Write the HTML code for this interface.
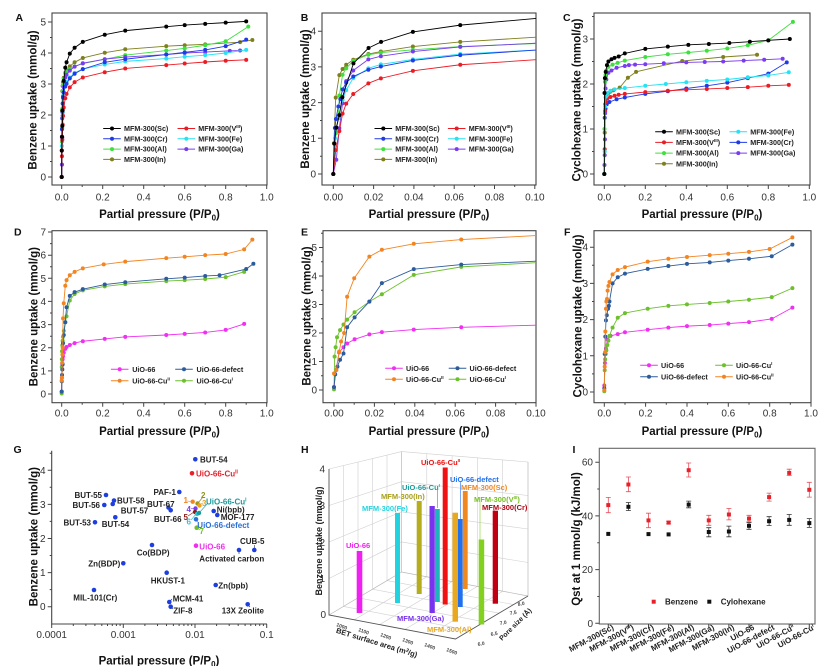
<!DOCTYPE html>
<html><head><meta charset="utf-8"><style>
html,body{margin:0;padding:0;background:#fff}
svg{display:block}
.t{font-size:10px;fill:#333}
.ti{font-size:11.5px;font-weight:bold;fill:#111}
.lg{font-size:7.2px;font-weight:bold;fill:#222}
.pl{font-size:10.5px;font-weight:bold;fill:#111}
.ln{fill:none;stroke-width:0.9;vector-effect:non-scaling-stroke;stroke-linejoin:round}
.gl{font-size:8px;font-weight:bold;fill:#222}
.hl{font-size:7.5px;font-weight:bold}
.il{font-size:8px;font-weight:bold;fill:#222}
.tk{stroke:#444;stroke-width:1;fill:none}
.gr{stroke:#cfcfcf;stroke-width:0.6;fill:none}
</style></head><body>
<svg width="828" height="666" viewBox="0 0 828 666" xmlns="http://www.w3.org/2000/svg" font-family="'Liberation Sans', Arial, sans-serif">
<defs>
<!-- Panel A markers rx=0.00976 ry=0.0645 -->
<marker id="mA0" markerUnits="userSpaceOnUse" markerWidth="0.0195" markerHeight="0.129" refX="0.00976" refY="0.0645" overflow="visible"><ellipse cx="0.00976" cy="0.0645" rx="0.00976" ry="0.0645" fill="#000"/></marker>
<marker id="mA1" markerUnits="userSpaceOnUse" markerWidth="0.0195" markerHeight="0.129" refX="0.00976" refY="0.0645" overflow="visible"><ellipse cx="0.00976" cy="0.0645" rx="0.00976" ry="0.0645" fill="#ec1c24"/></marker>
<marker id="mA2" markerUnits="userSpaceOnUse" markerWidth="0.0195" markerHeight="0.129" refX="0.00976" refY="0.0645" overflow="visible"><ellipse cx="0.00976" cy="0.0645" rx="0.00976" ry="0.0645" fill="#1f3be8"/></marker>
<marker id="mA3" markerUnits="userSpaceOnUse" markerWidth="0.0195" markerHeight="0.129" refX="0.00976" refY="0.0645" overflow="visible"><ellipse cx="0.00976" cy="0.0645" rx="0.00976" ry="0.0645" fill="#26e2f2"/></marker>
<marker id="mA4" markerUnits="userSpaceOnUse" markerWidth="0.0195" markerHeight="0.129" refX="0.00976" refY="0.0645" overflow="visible"><ellipse cx="0.00976" cy="0.0645" rx="0.00976" ry="0.0645" fill="#3ee03e"/></marker>
<marker id="mA5" markerUnits="userSpaceOnUse" markerWidth="0.0195" markerHeight="0.129" refX="0.00976" refY="0.0645" overflow="visible"><ellipse cx="0.00976" cy="0.0645" rx="0.00976" ry="0.0645" fill="#7a3cf0"/></marker>
<marker id="mA6" markerUnits="userSpaceOnUse" markerWidth="0.0195" markerHeight="0.129" refX="0.00976" refY="0.0645" overflow="visible"><ellipse cx="0.00976" cy="0.0645" rx="0.00976" ry="0.0645" fill="#7f7f1e"/></marker>
<!-- Panel B markers rx=0.000993 ry=0.056 -->
<marker id="mB0" markerUnits="userSpaceOnUse" markerWidth="0.001986" markerHeight="0.112" refX="0.000993" refY="0.056" overflow="visible"><ellipse cx="0.000993" cy="0.056" rx="0.000993" ry="0.056" fill="#000"/></marker>
<marker id="mB1" markerUnits="userSpaceOnUse" markerWidth="0.001986" markerHeight="0.112" refX="0.000993" refY="0.056" overflow="visible"><ellipse cx="0.000993" cy="0.056" rx="0.000993" ry="0.056" fill="#ec1c24"/></marker>
<marker id="mB2" markerUnits="userSpaceOnUse" markerWidth="0.001986" markerHeight="0.112" refX="0.000993" refY="0.056" overflow="visible"><ellipse cx="0.000993" cy="0.056" rx="0.000993" ry="0.056" fill="#1f3be8"/></marker>
<marker id="mB3" markerUnits="userSpaceOnUse" markerWidth="0.001986" markerHeight="0.112" refX="0.000993" refY="0.056" overflow="visible"><ellipse cx="0.000993" cy="0.056" rx="0.000993" ry="0.056" fill="#26e2f2"/></marker>
<marker id="mB4" markerUnits="userSpaceOnUse" markerWidth="0.001986" markerHeight="0.112" refX="0.000993" refY="0.056" overflow="visible"><ellipse cx="0.000993" cy="0.056" rx="0.000993" ry="0.056" fill="#3ee03e"/></marker>
<marker id="mB5" markerUnits="userSpaceOnUse" markerWidth="0.001986" markerHeight="0.112" refX="0.000993" refY="0.056" overflow="visible"><ellipse cx="0.000993" cy="0.056" rx="0.000993" ry="0.056" fill="#7a3cf0"/></marker>
<marker id="mB6" markerUnits="userSpaceOnUse" markerWidth="0.001986" markerHeight="0.112" refX="0.000993" refY="0.056" overflow="visible"><ellipse cx="0.000993" cy="0.056" rx="0.000993" ry="0.056" fill="#7f7f1e"/></marker>
<!-- Panel C markers rx=0.00976 ry=0.0444 -->
<marker id="mC0" markerUnits="userSpaceOnUse" markerWidth="0.0195" markerHeight="0.0888" refX="0.00976" refY="0.0444" overflow="visible"><ellipse cx="0.00976" cy="0.0444" rx="0.00976" ry="0.0444" fill="#000"/></marker>
<marker id="mC1" markerUnits="userSpaceOnUse" markerWidth="0.0195" markerHeight="0.0888" refX="0.00976" refY="0.0444" overflow="visible"><ellipse cx="0.00976" cy="0.0444" rx="0.00976" ry="0.0444" fill="#ec1c24"/></marker>
<marker id="mC2" markerUnits="userSpaceOnUse" markerWidth="0.0195" markerHeight="0.0888" refX="0.00976" refY="0.0444" overflow="visible"><ellipse cx="0.00976" cy="0.0444" rx="0.00976" ry="0.0444" fill="#1f3be8"/></marker>
<marker id="mC3" markerUnits="userSpaceOnUse" markerWidth="0.0195" markerHeight="0.0888" refX="0.00976" refY="0.0444" overflow="visible"><ellipse cx="0.00976" cy="0.0444" rx="0.00976" ry="0.0444" fill="#26e2f2"/></marker>
<marker id="mC4" markerUnits="userSpaceOnUse" markerWidth="0.0195" markerHeight="0.0888" refX="0.00976" refY="0.0444" overflow="visible"><ellipse cx="0.00976" cy="0.0444" rx="0.00976" ry="0.0444" fill="#3ee03e"/></marker>
<marker id="mC5" markerUnits="userSpaceOnUse" markerWidth="0.0195" markerHeight="0.0888" refX="0.00976" refY="0.0444" overflow="visible"><ellipse cx="0.00976" cy="0.0444" rx="0.00976" ry="0.0444" fill="#7a3cf0"/></marker>
<marker id="mC6" markerUnits="userSpaceOnUse" markerWidth="0.0195" markerHeight="0.0888" refX="0.00976" refY="0.0444" overflow="visible"><ellipse cx="0.00976" cy="0.0444" rx="0.00976" ry="0.0444" fill="#7f7f1e"/></marker>
<!-- Panel D markers rx=0.00976 ry=0.0864 -->
<marker id="mD0" markerUnits="userSpaceOnUse" markerWidth="0.0195" markerHeight="0.1728" refX="0.00976" refY="0.0864" overflow="visible"><ellipse cx="0.00976" cy="0.0864" rx="0.00976" ry="0.0864" fill="#f030f0"/></marker>
<marker id="mD1" markerUnits="userSpaceOnUse" markerWidth="0.0195" markerHeight="0.1728" refX="0.00976" refY="0.0864" overflow="visible"><ellipse cx="0.00976" cy="0.0864" rx="0.00976" ry="0.0864" fill="#2c5c9c"/></marker>
<marker id="mD2" markerUnits="userSpaceOnUse" markerWidth="0.0195" markerHeight="0.1728" refX="0.00976" refY="0.0864" overflow="visible"><ellipse cx="0.00976" cy="0.0864" rx="0.00976" ry="0.0864" fill="#f28522"/></marker>
<marker id="mD3" markerUnits="userSpaceOnUse" markerWidth="0.0195" markerHeight="0.1728" refX="0.00976" refY="0.0864" overflow="visible"><ellipse cx="0.00976" cy="0.0864" rx="0.00976" ry="0.0864" fill="#6cc02c"/></marker>
<!-- Panel E markers rx=0.00099 ry=0.0702 -->
<marker id="mE0" markerUnits="userSpaceOnUse" markerWidth="0.00198" markerHeight="0.1404" refX="0.00099" refY="0.0702" overflow="visible"><ellipse cx="0.00099" cy="0.0702" rx="0.00099" ry="0.0702" fill="#f030f0"/></marker>
<marker id="mE1" markerUnits="userSpaceOnUse" markerWidth="0.00198" markerHeight="0.1404" refX="0.00099" refY="0.0702" overflow="visible"><ellipse cx="0.00099" cy="0.0702" rx="0.00099" ry="0.0702" fill="#2c5c9c"/></marker>
<marker id="mE2" markerUnits="userSpaceOnUse" markerWidth="0.00198" markerHeight="0.1404" refX="0.00099" refY="0.0702" overflow="visible"><ellipse cx="0.00099" cy="0.0702" rx="0.00099" ry="0.0702" fill="#f28522"/></marker>
<marker id="mE3" markerUnits="userSpaceOnUse" markerWidth="0.00198" markerHeight="0.1404" refX="0.00099" refY="0.0702" overflow="visible"><ellipse cx="0.00099" cy="0.0702" rx="0.00099" ry="0.0702" fill="#6cc02c"/></marker>
<!-- Panel F markers rx=0.00968 ry=0.0552 -->
<marker id="mF0" markerUnits="userSpaceOnUse" markerWidth="0.01936" markerHeight="0.1104" refX="0.00968" refY="0.0552" overflow="visible"><ellipse cx="0.00968" cy="0.0552" rx="0.00968" ry="0.0552" fill="#f030f0"/></marker>
<marker id="mF1" markerUnits="userSpaceOnUse" markerWidth="0.01936" markerHeight="0.1104" refX="0.00968" refY="0.0552" overflow="visible"><ellipse cx="0.00968" cy="0.0552" rx="0.00968" ry="0.0552" fill="#2c5c9c"/></marker>
<marker id="mF2" markerUnits="userSpaceOnUse" markerWidth="0.01936" markerHeight="0.1104" refX="0.00968" refY="0.0552" overflow="visible"><ellipse cx="0.00968" cy="0.0552" rx="0.00968" ry="0.0552" fill="#f28522"/></marker>
<marker id="mF3" markerUnits="userSpaceOnUse" markerWidth="0.01936" markerHeight="0.1104" refX="0.00968" refY="0.0552" overflow="visible"><ellipse cx="0.00968" cy="0.0552" rx="0.00968" ry="0.0552" fill="#6cc02c"/></marker>
<clipPath id="clipB"><rect x="322" y="13" width="214" height="172"/></clipPath>
<clipPath id="clipE"><rect x="323" y="230.7" width="213" height="172"/></clipPath>
</defs>
<rect width="828" height="666" fill="#fff"/>

<!-- ================= PANEL A ================= -->
<text class="pl" x="15.5" y="21">A</text>
<rect x="52" y="13" width="215" height="172" fill="none" stroke="#444" stroke-width="1.1"/>
<path class="tk" d="M61.7,185V189M102.7,185V189M143.7,185V189M184.7,185V189M225.7,185V189M266.7,185V189M82.2,185V187M123.2,185V187M164.2,185V187M205.2,185V187M246.2,185V187M52,177H48M52,146H48M52,115H48M52,84H48M52,53H48M52,22H48M52,161.5H50M52,130.5H50M52,99.5H50M52,68.5H50M52,37.5H50"/>
<g class="t" text-anchor="middle"><text x="61.7" y="200.3">0.0</text><text x="102.7" y="200.3">0.2</text><text x="143.7" y="200.3">0.4</text><text x="184.7" y="200.3">0.6</text><text x="225.7" y="200.3">0.8</text><text x="266.7" y="200.3">1.0</text></g>
<g class="t" text-anchor="end"><text x="46" y="180.5">0</text><text x="46" y="149.5">1</text><text x="46" y="118.5">2</text><text x="46" y="87.5">3</text><text x="46" y="56.5">4</text><text x="46" y="25.5">5</text></g>
<text class="ti" transform="translate(36.3,100) rotate(-90)" text-anchor="middle">Benzene uptake (mmol/g)</text>
<text class="ti" x="159.5" y="218" text-anchor="middle">Partial pressure (P/P<tspan font-size="8" dy="2.5">0</tspan><tspan dy="-2.5">)</tspan></text>
<g transform="translate(61.7,177) scale(205,-31)">
<polyline class="ln" stroke="#7f7f1e" marker-start="url(#mA6)" marker-mid="url(#mA6)" marker-end="url(#mA6)" points="0,0 0.0003,0.86 0.0012,2.14 0.003,2.77 0.0046,2.94 0.0064,3.06 0.0099,3.2 0.0174,3.36 0.0236,3.43 0.0395,3.57 0.063,3.7 0.103,3.84 0.21,4.01 0.31,4.12 0.51,4.22 0.6,4.25 0.7,4.28 0.87,4.35 0.93,4.42"/>
<polyline class="ln" stroke="#3ee03e" marker-start="url(#mA4)" marker-mid="url(#mA4)" marker-end="url(#mA4)" points="0,0 0.0008,0.4 0.0013,1.14 0.0025,1.6 0.003,2.2 0.0046,2.78 0.0064,2.96 0.0099,3.17 0.0174,3.34 0.0236,3.4 0.0395,3.48 0.063,3.57 0.103,3.66 0.21,3.8 0.31,3.93 0.51,4.08 0.6,4.15 0.7,4.25 0.8,4.38 0.91,4.85"/>
<polyline class="ln" stroke="#7a3cf0" marker-start="url(#mA5)" marker-mid="url(#mA5)" marker-end="url(#mA5)" points="0,0 0.0015,0.4 0.003,1.28 0.0046,1.98 0.0064,2.6 0.0099,2.9 0.0174,3.21 0.0236,3.3 0.0395,3.43 0.063,3.56 0.103,3.67 0.21,3.8 0.31,3.87 0.51,3.95 0.6,4.0 0.7,4.03 0.82,4.07 0.87,4.08"/>
<polyline class="ln" stroke="#26e2f2" marker-start="url(#mA3)" marker-mid="url(#mA3)" marker-end="url(#mA3)" points="0,0 0.0008,1.0 0.0025,1.56 0.0046,2.07 0.0064,2.35 0.0099,2.69 0.0174,2.96 0.0236,3.07 0.0395,3.21 0.063,3.36 0.103,3.48 0.21,3.63 0.31,3.73 0.51,3.82 0.6,3.88 0.7,3.93 0.8,4.0 0.9,4.1"/>
<polyline class="ln" stroke="#1f3be8" marker-start="url(#mA2)" marker-mid="url(#mA2)" marker-end="url(#mA2)" points="0,0 0.0008,1.29 0.0013,1.54 0.0025,1.89 0.0035,2.1 0.0046,2.37 0.0064,2.56 0.0099,2.73 0.0174,2.92 0.0236,3.01 0.0395,3.18 0.063,3.33 0.103,3.48 0.21,3.7 0.31,3.8 0.51,3.95 0.6,4.02 0.7,4.1 0.8,4.22 0.9,4.43"/>
<polyline class="ln" stroke="#ec1c24" marker-start="url(#mA1)" marker-mid="url(#mA1)" marker-end="url(#mA1)" points="0,0 0.0012,0.67 0.003,1.2 0.0046,1.69 0.0064,1.97 0.0099,2.24 0.0174,2.54 0.0236,2.68 0.0395,2.89 0.063,3.06 0.103,3.21 0.21,3.38 0.31,3.5 0.51,3.61 0.6,3.66 0.7,3.71 0.8,3.75 0.9,3.78"/>
<polyline class="ln" stroke="#000" marker-start="url(#mA0)" marker-mid="url(#mA0)" marker-end="url(#mA0)" points="0,0 0.0005,0.85 0.0015,1.3 0.003,1.65 0.0045,2.15 0.01,3.1 0.0175,3.53 0.0237,3.7 0.0395,3.98 0.063,4.17 0.103,4.36 0.21,4.59 0.31,4.72 0.51,4.85 0.6,4.9 0.7,4.94 0.8,4.98 0.9,5.02"/>
</g>
<g class="lg">
<g transform="translate(112,128.5)"><line x1="-8.8" x2="8.8" stroke="#000"/><circle r="2" fill="#000"/><text x="12" y="2.6">MFM-300(Sc)</text></g>
<g transform="translate(186.3,128.5)"><line x1="-8.8" x2="8.8" stroke="#ec1c24"/><circle r="2" fill="#ec1c24"/><text x="12" y="2.6">MFM-300(V<tspan font-size="4.5" dy="-3">III</tspan><tspan dy="3">)</tspan></text></g>
<g transform="translate(112,138.8)"><line x1="-8.8" x2="8.8" stroke="#1f3be8"/><circle r="2" fill="#1f3be8"/><text x="12" y="2.6">MFM-300(Cr)</text></g>
<g transform="translate(186.3,138.8)"><line x1="-8.8" x2="8.8" stroke="#26e2f2"/><circle r="2" fill="#26e2f2"/><text x="12" y="2.6">MFM-300(Fe)</text></g>
<g transform="translate(112,149.1)"><line x1="-8.8" x2="8.8" stroke="#3ee03e"/><circle r="2" fill="#3ee03e"/><text x="12" y="2.6">MFM-300(Al)</text></g>
<g transform="translate(186.3,149.1)"><line x1="-8.8" x2="8.8" stroke="#7a3cf0"/><circle r="2" fill="#7a3cf0"/><text x="12" y="2.6">MFM-300(Ga)</text></g>
<g transform="translate(112,159.4)"><line x1="-8.8" x2="8.8" stroke="#7f7f1e"/><circle r="2" fill="#7f7f1e"/><text x="12" y="2.6">MFM-300(In)</text></g>
</g>

<!-- ================= PANEL B ================= -->
<text class="pl" x="300.7" y="21">B</text>
<rect x="322" y="13" width="214" height="172" fill="none" stroke="#444" stroke-width="1.1"/>
<path class="tk" d="M333.3,185V189M373.6,185V189M413.9,185V189M454.2,185V189M494.5,185V189M534.8,185V189M353.5,185V187M393.8,185V187M434.1,185V187M474.4,185V187M514.7,185V187M322,174H318M322,138.3H318M322,102.6H318M322,66.9H318M322,31.2H318M322,156.2H320M322,120.5H320M322,84.8H320M322,49.1H320"/>
<g class="t" text-anchor="middle"><text x="333.3" y="200.3">0.00</text><text x="373.6" y="200.3">0.02</text><text x="413.9" y="200.3">0.04</text><text x="454.2" y="200.3">0.06</text><text x="494.5" y="200.3">0.08</text><text x="534.8" y="200.3">0.10</text></g>
<g class="t" text-anchor="end"><text x="316" y="177.5">0</text><text x="316" y="141.8">1</text><text x="316" y="106.1">2</text><text x="316" y="70.4">3</text><text x="316" y="34.7">4</text></g>
<text class="ti" transform="translate(309,99) rotate(-90)" text-anchor="middle">Benzene uptake (mmol/g)</text>
<text class="ti" x="429" y="218" text-anchor="middle">Partial pressure (P/P<tspan font-size="8" dy="2.5">0</tspan><tspan dy="-2.5">)</tspan></text>
<g clip-path="url(#clipB)"><g transform="translate(333.3,174) scale(2015,-35.7)">
<polyline class="ln" stroke="#7f7f1e" marker-start="url(#mB6)" marker-mid="url(#mB6)" marker-end="url(#mB6)" points="0,0 0.0003,0.86 0.0012,2.14 0.003,2.77 0.0046,2.94 0.0064,3.06 0.0099,3.2 0.0174,3.36 0.0236,3.43 0.0395,3.57 0.063,3.7 0.103,3.84 0.21,4.01"/>
<polyline class="ln" stroke="#3ee03e" marker-start="url(#mB4)" marker-mid="url(#mB4)" marker-end="url(#mB4)" points="0,0 0.0008,0.4 0.0013,1.14 0.0025,1.6 0.003,2.2 0.0046,2.78 0.0064,2.96 0.0099,3.17 0.0174,3.34 0.0236,3.4 0.0395,3.48 0.063,3.57 0.103,3.66 0.21,3.8"/>
<polyline class="ln" stroke="#7a3cf0" marker-start="url(#mB5)" marker-mid="url(#mB5)" marker-end="url(#mB5)" points="0,0 0.0015,0.4 0.003,1.28 0.0046,1.98 0.0064,2.6 0.0099,2.9 0.0174,3.21 0.0236,3.3 0.0395,3.43 0.063,3.56 0.103,3.67 0.21,3.8"/>
<polyline class="ln" stroke="#26e2f2" marker-start="url(#mB3)" marker-mid="url(#mB3)" marker-end="url(#mB3)" points="0,0 0.0008,1.0 0.0025,1.56 0.0046,2.07 0.0064,2.35 0.0099,2.69 0.0174,2.96 0.0236,3.07 0.0395,3.21 0.063,3.36 0.103,3.48 0.21,3.63"/>
<polyline class="ln" stroke="#1f3be8" marker-start="url(#mB2)" marker-mid="url(#mB2)" marker-end="url(#mB2)" points="0,0 0.0008,1.29 0.0013,1.54 0.0025,1.89 0.0035,2.1 0.0046,2.37 0.0064,2.56 0.0099,2.73 0.0174,2.92 0.0236,3.01 0.0395,3.18 0.063,3.33 0.103,3.48 0.21,3.7"/>
<polyline class="ln" stroke="#ec1c24" marker-start="url(#mB1)" marker-mid="url(#mB1)" marker-end="url(#mB1)" points="0,0 0.0012,0.67 0.003,1.2 0.0046,1.69 0.0064,1.97 0.0099,2.24 0.0174,2.54 0.0236,2.68 0.0395,2.89 0.063,3.06 0.103,3.21 0.21,3.38"/>
<polyline class="ln" stroke="#000" marker-start="url(#mB0)" marker-mid="url(#mB0)" marker-end="url(#mB0)" points="0,0 0.0005,0.85 0.0015,1.3 0.003,1.65 0.0045,2.15 0.01,3.1 0.0175,3.53 0.0237,3.7 0.0395,3.98 0.063,4.17 0.103,4.37 0.21,4.59"/>
</g></g>
<g class="lg">
<g transform="translate(383.3,128.5)"><line x1="-8.8" x2="8.8" stroke="#000"/><circle r="2" fill="#000"/><text x="12" y="2.6">MFM-300(Sc)</text></g>
<g transform="translate(456.7,128.5)"><line x1="-8.8" x2="8.8" stroke="#ec1c24"/><circle r="2" fill="#ec1c24"/><text x="12" y="2.6">MFM-300(V<tspan font-size="4.5" dy="-3">III</tspan><tspan dy="3">)</tspan></text></g>
<g transform="translate(383.3,138.8)"><line x1="-8.8" x2="8.8" stroke="#1f3be8"/><circle r="2" fill="#1f3be8"/><text x="12" y="2.6">MFM-300(Cr)</text></g>
<g transform="translate(456.7,138.8)"><line x1="-8.8" x2="8.8" stroke="#26e2f2"/><circle r="2" fill="#26e2f2"/><text x="12" y="2.6">MFM-300(Fe)</text></g>
<g transform="translate(383.3,149.1)"><line x1="-8.8" x2="8.8" stroke="#3ee03e"/><circle r="2" fill="#3ee03e"/><text x="12" y="2.6">MFM-300(Al)</text></g>
<g transform="translate(456.7,149.1)"><line x1="-8.8" x2="8.8" stroke="#7a3cf0"/><circle r="2" fill="#7a3cf0"/><text x="12" y="2.6">MFM-300(Ga)</text></g>
<g transform="translate(383.3,159.4)"><line x1="-8.8" x2="8.8" stroke="#7f7f1e"/><circle r="2" fill="#7f7f1e"/><text x="12" y="2.6">MFM-300(In)</text></g>
</g>

<!-- ================= PANEL C ================= -->
<text class="pl" x="563" y="21">C</text>
<rect x="594" y="13" width="216" height="172" fill="none" stroke="#444" stroke-width="1.1"/>
<path class="tk" d="M604.3,185V189M645.3,185V189M686.3,185V189M727.3,185V189M768.3,185V189M809.3,185V189M624.8,185V187M665.8,185V187M706.8,185V187M747.8,185V187M788.8,185V187M594,174H590M594,129H590M594,84H590M594,39H590M594,151.5H592M594,106.5H592M594,61.5H592M594,16.5H592"/>
<g class="t" text-anchor="middle"><text x="604.3" y="200.3">0.0</text><text x="645.3" y="200.3">0.2</text><text x="686.3" y="200.3">0.4</text><text x="727.3" y="200.3">0.6</text><text x="768.3" y="200.3">0.8</text><text x="809.3" y="200.3">1.0</text></g>
<g class="t" text-anchor="end"><text x="588" y="177.5">0</text><text x="588" y="132.5">1</text><text x="588" y="87.5">2</text><text x="588" y="42.5">3</text></g>
<text class="ti" transform="translate(580.7,100) rotate(-90)" text-anchor="middle">Cyclohexane uptake (mmol/g)</text>
<text class="ti" x="702" y="218" text-anchor="middle">Partial pressure (P/P<tspan font-size="8" dy="2.5">0</tspan><tspan dy="-2.5">)</tspan></text>
<g transform="translate(604.3,174) scale(205,-45)">
<polyline class="ln" stroke="#7f7f1e" marker-start="url(#mC6)" marker-mid="url(#mC6)" marker-end="url(#mC6)" points="0,0 0.002,0.92 0.004,1.55 0.007,1.7 0.012,1.77 0.02,1.8 0.03,1.83 0.045,1.86 0.075,1.92 0.115,2.14 0.155,2.27 0.38,2.51 0.58,2.6 0.745,2.65"/>
<polyline class="ln" stroke="#1f3be8" marker-start="url(#mC2)" marker-mid="url(#mC2)" marker-end="url(#mC2)" points="0,0 0.002,1.25 0.006,1.45 0.012,1.55 0.025,1.6 0.06,1.66 0.1,1.7 0.2,1.78 0.31,1.84 0.4,1.9 0.5,1.96 0.6,2.03 0.7,2.13 0.8,2.23 0.89,2.48"/>
<polyline class="ln" stroke="#ec1c24" marker-start="url(#mC1)" marker-mid="url(#mC1)" marker-end="url(#mC1)" points="0,0 0.002,0.55 0.004,1.4 0.008,1.6 0.015,1.68 0.03,1.71 0.05,1.74 0.07,1.76 0.1,1.78 0.2,1.82 0.31,1.85 0.4,1.87 0.5,1.89 0.6,1.91 0.7,1.93 0.8,1.96 0.9,1.98"/>
<polyline class="ln" stroke="#26e2f2" marker-start="url(#mC3)" marker-mid="url(#mC3)" marker-end="url(#mC3)" points="0,0 0.002,0.5 0.004,1.5 0.008,1.72 0.015,1.8 0.03,1.85 0.05,1.88 0.1,1.91 0.2,1.96 0.3,2.0 0.4,2.04 0.5,2.07 0.6,2.1 0.7,2.15 0.8,2.19 0.9,2.26"/>
<polyline class="ln" stroke="#7a3cf0" marker-start="url(#mC5)" marker-mid="url(#mC5)" marker-end="url(#mC5)" points="0,0 0.001,0.2 0.002,0.42 0.003,0.77 0.004,1.35 0.006,1.9 0.01,2.1 0.02,2.25 0.035,2.3 0.06,2.36 0.1,2.4 0.12,2.42 0.15,2.43 0.2,2.44 0.29,2.46 0.4,2.48 0.49,2.49 0.58,2.5 0.68,2.52 0.78,2.54 0.87,2.56"/>
<polyline class="ln" stroke="#3ee03e" marker-start="url(#mC4)" marker-mid="url(#mC4)" marker-end="url(#mC4)" points="0,0 0.001,1.0 0.003,2.05 0.006,2.2 0.01,2.3 0.02,2.38 0.04,2.43 0.065,2.47 0.1,2.52 0.2,2.6 0.31,2.66 0.41,2.7 0.5,2.74 0.6,2.79 0.7,2.86 0.8,2.97 0.92,3.38"/>
<polyline class="ln" stroke="#000" marker-start="url(#mC0)" marker-mid="url(#mC0)" marker-end="url(#mC0)" points="0,0 0.001,1.8 0.003,2.13 0.007,2.27 0.013,2.42 0.02,2.5 0.035,2.55 0.05,2.58 0.07,2.61 0.1,2.68 0.2,2.78 0.31,2.83 0.41,2.87 0.51,2.89 0.61,2.91 0.71,2.94 0.8,2.97 0.905,3.0"/>
</g>
<g class="lg">
<g transform="translate(664,131.7)"><line x1="-8.8" x2="8.8" stroke="#000"/><circle r="2" fill="#000"/><text x="12" y="2.6">MFM-300(Sc)</text></g>
<g transform="translate(738.3,131.7)"><line x1="-8.8" x2="8.8" stroke="#26e2f2"/><circle r="2" fill="#26e2f2"/><text x="12" y="2.6">MFM-300(Fe)</text></g>
<g transform="translate(664,142.4)"><line x1="-8.8" x2="8.8" stroke="#ec1c24"/><circle r="2" fill="#ec1c24"/><text x="12" y="2.6">MFM-300(V<tspan font-size="4.5" dy="-3">III</tspan><tspan dy="3">)</tspan></text></g>
<g transform="translate(738.3,142.4)"><line x1="-8.8" x2="8.8" stroke="#1f3be8"/><circle r="2" fill="#1f3be8"/><text x="12" y="2.6">MFM-300(Cr)</text></g>
<g transform="translate(664,153.1)"><line x1="-8.8" x2="8.8" stroke="#3ee03e"/><circle r="2" fill="#3ee03e"/><text x="12" y="2.6">MFM-300(Al)</text></g>
<g transform="translate(738.3,153.1)"><line x1="-8.8" x2="8.8" stroke="#7a3cf0"/><circle r="2" fill="#7a3cf0"/><text x="12" y="2.6">MFM-300(Ga)</text></g>
<g transform="translate(664,163.8)"><line x1="-8.8" x2="8.8" stroke="#7f7f1e"/><circle r="2" fill="#7f7f1e"/><text x="12" y="2.6">MFM-300(In)</text></g>
</g>

<!-- ================= PANEL D ================= -->
<text class="pl" x="14" y="235.5">D</text>
<rect x="52" y="230.7" width="215" height="172" fill="none" stroke="#444" stroke-width="1.1"/>
<path class="tk" d="M61.7,402.7V406.7M102.7,402.7V406.7M143.7,402.7V406.7M184.7,402.7V406.7M225.7,402.7V406.7M266.7,402.7V406.7M82.2,402.7V404.7M123.2,402.7V404.7M164.2,402.7V404.7M205.2,402.7V404.7M246.2,402.7V404.7M52,394H48M52,370.9H48M52,347.7H48M52,324.6H48M52,301.4H48M52,278.3H48M52,255.2H48M52,232H48M52,382.4H50M52,359.3H50M52,336.2H50M52,313H50M52,289.9H50M52,266.7H50M52,243.6H50"/>
<g class="t" text-anchor="middle"><text x="61.7" y="416.3">0.0</text><text x="102.7" y="416.3">0.2</text><text x="143.7" y="416.3">0.4</text><text x="184.7" y="416.3">0.6</text><text x="225.7" y="416.3">0.8</text><text x="266.7" y="416.3">1.0</text></g>
<g class="t" text-anchor="end"><text x="46" y="397.5">0</text><text x="46" y="374.4">1</text><text x="46" y="351.2">2</text><text x="46" y="328.1">3</text><text x="46" y="304.9">4</text><text x="46" y="281.8">5</text><text x="46" y="258.7">6</text><text x="46" y="235.5">7</text></g>
<text class="ti" transform="translate(37.3,316.7) rotate(-90)" text-anchor="middle">Benzene uptake (mmol/g)</text>
<text class="ti" x="159.5" y="435" text-anchor="middle">Partial pressure (P/P<tspan font-size="8" dy="2.5">0</tspan><tspan dy="-2.5">)</tspan></text>
<g transform="translate(61.7,394) scale(205,-23.14)">
<polyline class="ln" stroke="#f030f0" marker-start="url(#mD0)" marker-mid="url(#mD0)" marker-end="url(#mD0)" points="0,0.1 0.001,0.7 0.0025,1.32 0.0047,1.5 0.0065,1.63 0.0102,1.78 0.0175,1.95 0.0237,2.03 0.0395,2.12 0.063,2.2 0.103,2.28 0.21,2.38 0.31,2.47 0.51,2.55 0.6,2.6 0.7,2.66 0.8,2.77 0.89,3.03"/>
<polyline class="ln" stroke="#6cc02c" marker-start="url(#mD3)" marker-mid="url(#mD3)" marker-end="url(#mD3)" points="0,0.02 0.0003,1.17 0.0008,1.5 0.0015,1.85 0.003,2.1 0.0047,2.3 0.0065,2.47 0.0102,2.73 0.0175,3.1 0.0237,3.36 0.0395,4.04 0.063,4.32 0.103,4.48 0.21,4.65 0.31,4.75 0.51,4.88 0.6,4.92 0.7,4.97 0.8,5.05 0.89,5.28"/>
<polyline class="ln" stroke="#2c5c9c" marker-start="url(#mD1)" marker-mid="url(#mD1)" marker-end="url(#mD1)" points="0,0.1 0.0006,0.55 0.0017,0.82 0.003,1.06 0.0047,1.28 0.0065,2.2 0.0102,2.55 0.0175,3.1 0.0237,3.75 0.0395,4.24 0.063,4.4 0.103,4.53 0.21,4.73 0.31,4.83 0.51,4.98 0.6,5.03 0.7,5.1 0.77,5.13 0.9,5.4 0.935,5.63"/>
<polyline class="ln" stroke="#f28522" marker-start="url(#mD2)" marker-mid="url(#mD2)" marker-end="url(#mD2)" points="0,0.58 0.0012,0.7 0.0026,1.35 0.0035,1.7 0.005,2.0 0.0065,3.27 0.01,3.92 0.0175,4.68 0.0237,4.92 0.0395,5.13 0.063,5.28 0.103,5.43 0.205,5.6 0.31,5.72 0.51,5.87 0.6,5.93 0.7,6.0 0.8,6.05 0.89,6.25 0.93,6.67"/>
</g>
<g class="lg">
<g transform="translate(119.7,369.3)"><line x1="-8.8" x2="8.8" stroke="#f030f0"/><circle r="2" fill="#f030f0"/><text x="12.5" y="2.6">UiO-66</text></g>
<g transform="translate(184,369.3)"><line x1="-8.8" x2="8.8" stroke="#2c5c9c"/><circle r="2" fill="#2c5c9c"/><text x="12.5" y="2.6">UiO-66-defect</text></g>
<g transform="translate(119.7,380.7)"><line x1="-8.8" x2="8.8" stroke="#f28522"/><circle r="2" fill="#f28522"/><text x="12.5" y="2.6">UiO-66-Cu<tspan font-size="4.5" dy="-3">II</tspan></text></g>
<g transform="translate(184,380.7)"><line x1="-8.8" x2="8.8" stroke="#6cc02c"/><circle r="2" fill="#6cc02c"/><text x="12.5" y="2.6">UiO-66-Cu<tspan font-size="4.5" dy="-3">I</tspan></text></g>
</g>

<!-- ================= PANEL E ================= -->
<text class="pl" x="301" y="235.5">E</text>
<rect x="323" y="230.7" width="213" height="172" fill="none" stroke="#444" stroke-width="1.1"/>
<path class="tk" d="M334,402.7V406.7M374.4,402.7V406.7M414.8,402.7V406.7M455.2,402.7V406.7M495.6,402.7V406.7M536,402.7V406.7M354.2,402.7V404.7M394.6,402.7V404.7M435,402.7V404.7M475.4,402.7V404.7M515.8,402.7V404.7M323,390H319M323,361.5H319M323,333H319M323,304.5H319M323,276H319M323,247.5H319M323,375.8H321M323,347.3H321M323,318.8H321M323,290.3H321M323,261.8H321M323,233.3H321"/>
<g class="t" text-anchor="middle"><text x="334" y="416.3">0.00</text><text x="374.4" y="416.3">0.02</text><text x="414.8" y="416.3">0.04</text><text x="455.2" y="416.3">0.06</text><text x="495.6" y="416.3">0.08</text><text x="536" y="416.3">0.10</text></g>
<g class="t" text-anchor="end"><text x="317" y="393.5">0</text><text x="317" y="365">1</text><text x="317" y="336.5">2</text><text x="317" y="308">3</text><text x="317" y="279.5">4</text><text x="317" y="251">5</text></g>
<text class="ti" transform="translate(310.7,316) rotate(-90)" text-anchor="middle">Benzene uptake (mmol/g)</text>
<text class="ti" x="429" y="435" text-anchor="middle">Partial pressure (P/P<tspan font-size="8" dy="2.5">0</tspan><tspan dy="-2.5">)</tspan></text>
<g clip-path="url(#clipE)"><g transform="translate(334,390) scale(2020,-28.5)">
<polyline class="ln" stroke="#f030f0" marker-start="url(#mE0)" marker-mid="url(#mE0)" marker-end="url(#mE0)" points="0,0.1 0.001,0.7 0.0025,1.32 0.0047,1.5 0.0065,1.63 0.0102,1.78 0.0175,1.95 0.0237,2.03 0.0395,2.12 0.063,2.2 0.103,2.28 0.21,2.38"/>
<polyline class="ln" stroke="#6cc02c" marker-start="url(#mE3)" marker-mid="url(#mE3)" marker-end="url(#mE3)" points="0,0.02 0.0003,1.17 0.0008,1.5 0.0015,1.85 0.003,2.1 0.0047,2.3 0.0065,2.47 0.0102,2.73 0.0175,3.1 0.0237,3.36 0.0395,4.04 0.063,4.32 0.103,4.48 0.21,4.65"/>
<polyline class="ln" stroke="#2c5c9c" marker-start="url(#mE1)" marker-mid="url(#mE1)" marker-end="url(#mE1)" points="0,0.1 0.0006,0.55 0.0017,0.82 0.003,1.06 0.0047,1.28 0.0065,2.2 0.0102,2.55 0.0175,3.1 0.0237,3.75 0.0395,4.24 0.063,4.4 0.103,4.53 0.21,4.73"/>
<polyline class="ln" stroke="#f28522" marker-start="url(#mE2)" marker-mid="url(#mE2)" marker-end="url(#mE2)" points="0,0.58 0.0012,0.7 0.0026,1.35 0.0035,1.7 0.005,2.0 0.0065,3.27 0.01,3.92 0.0175,4.68 0.0237,4.92 0.0395,5.13 0.063,5.28 0.103,5.43 0.205,5.6"/>
</g></g>
<g class="lg">
<g transform="translate(394,368.3)"><line x1="-8.8" x2="8.8" stroke="#f030f0"/><circle r="2" fill="#f030f0"/><text x="12" y="2.6">UiO-66</text></g>
<g transform="translate(457.5,368.3)"><line x1="-8.8" x2="8.8" stroke="#2c5c9c"/><circle r="2" fill="#2c5c9c"/><text x="12" y="2.6">UiO-66-defect</text></g>
<g transform="translate(394,379.3)"><line x1="-8.8" x2="8.8" stroke="#f28522"/><circle r="2" fill="#f28522"/><text x="12" y="2.6">UiO-66-Cu<tspan font-size="4.5" dy="-3">II</tspan></text></g>
<g transform="translate(457.5,379.3)"><line x1="-8.8" x2="8.8" stroke="#6cc02c"/><circle r="2" fill="#6cc02c"/><text x="12" y="2.6">UiO-66-Cu<tspan font-size="4.5" dy="-3">I</tspan></text></g>
</g>

<!-- ================= PANEL F ================= -->
<text class="pl" x="564" y="235.5">F</text>
<rect x="594" y="230.7" width="217" height="172" fill="none" stroke="#444" stroke-width="1.1"/>
<path class="tk" d="M604.3,402.7V406.7M645.6,402.7V406.7M687,402.7V406.7M728.3,402.7V406.7M769.7,402.7V406.7M811,402.7V406.7M625,402.7V404.7M666.3,402.7V404.7M707.6,402.7V404.7M749,402.7V404.7M790.3,402.7V404.7M594,392H590M594,355.8H590M594,319.6H590M594,283.4H590M594,247.2H590M594,373.9H592M594,337.7H592M594,301.5H592M594,265.3H592"/>
<g class="t" text-anchor="middle"><text x="604.3" y="416.3">0.0</text><text x="645.6" y="416.3">0.2</text><text x="687" y="416.3">0.4</text><text x="728.3" y="416.3">0.6</text><text x="769.7" y="416.3">0.8</text><text x="811" y="416.3">1.0</text></g>
<g class="t" text-anchor="end"><text x="588" y="395.5">0</text><text x="588" y="359.3">1</text><text x="588" y="323.1">2</text><text x="588" y="286.9">3</text><text x="588" y="250.7">4</text></g>
<text class="ti" transform="translate(581.3,316) rotate(-90)" text-anchor="middle">Cyclohexane uptake (mmol/g)</text>
<text class="ti" x="702" y="435" text-anchor="middle">Partial pressure (P/P<tspan font-size="8" dy="2.5">0</tspan><tspan dy="-2.5">)</tspan></text>
<g transform="translate(604.3,392) scale(206.7,-36.2)">
<polyline class="ln" stroke="#f030f0" marker-start="url(#mF0)" marker-mid="url(#mF0)" marker-end="url(#mF0)" points="0,0.18 0.003,0.8 0.008,1.2 0.015,1.45 0.03,1.55 0.065,1.6 0.1,1.65 0.21,1.72 0.31,1.78 0.4,1.82 0.51,1.85 0.6,1.89 0.7,1.93 0.81,2.02 0.91,2.33"/>
<polyline class="ln" stroke="#6cc02c" marker-start="url(#mF3)" marker-mid="url(#mF3)" marker-end="url(#mF3)" points="0,0.02 0.002,0.6 0.004,0.9 0.007,1.05 0.01,1.15 0.015,1.3 0.02,1.42 0.025,1.55 0.04,1.78 0.065,2.05 0.1,2.18 0.21,2.3 0.31,2.38 0.4,2.42 0.51,2.46 0.6,2.5 0.7,2.55 0.81,2.62 0.91,2.87"/>
<polyline class="ln" stroke="#2c5c9c" marker-start="url(#mF1)" marker-mid="url(#mF1)" marker-end="url(#mF1)" points="0,0.1 0.002,1.05 0.005,1.53 0.008,1.98 0.012,2.12 0.018,2.3 0.022,2.38 0.025,2.5 0.04,3.0 0.065,3.17 0.1,3.27 0.21,3.4 0.31,3.48 0.4,3.54 0.51,3.58 0.6,3.63 0.7,3.68 0.81,3.75 0.91,4.07"/>
<polyline class="ln" stroke="#f28522" marker-start="url(#mF2)" marker-mid="url(#mF2)" marker-end="url(#mF2)" points="0,0.05 0.002,0.7 0.004,1.1 0.005,1.67 0.008,2.3 0.01,2.5 0.013,2.57 0.016,2.8 0.02,2.93 0.025,3.04 0.04,3.25 0.065,3.37 0.1,3.45 0.21,3.6 0.31,3.68 0.4,3.73 0.51,3.78 0.6,3.82 0.7,3.87 0.8,3.95 0.91,4.27"/>
</g>
<g class="lg">
<g transform="translate(649,365.3)"><line x1="-8.8" x2="8.8" stroke="#f030f0"/><circle r="2" fill="#f030f0"/><text x="12" y="2.6">UiO-66</text></g>
<g transform="translate(724,365.3)"><line x1="-8.8" x2="8.8" stroke="#6cc02c"/><circle r="2" fill="#6cc02c"/><text x="12" y="2.6">UiO-66-Cu<tspan font-size="4.5" dy="-3">I</tspan></text></g>
<g transform="translate(649,376.7)"><line x1="-8.8" x2="8.8" stroke="#2c5c9c"/><circle r="2" fill="#2c5c9c"/><text x="12" y="2.6">UiO-66-defect</text></g>
<g transform="translate(724,376.7)"><line x1="-8.8" x2="8.8" stroke="#f28522"/><circle r="2" fill="#f28522"/><text x="12" y="2.6">UiO-66-Cu<tspan font-size="4.5" dy="-3">II</tspan></text></g>
</g>

<!-- ================= PANEL G ================= -->
<text class="pl" x="13.5" y="453">G</text>
<path d="M51.7,450.7V624H267" fill="none" stroke="#444" stroke-width="1.1"/>
<path class="tk" d="M51.7,624V628M123.3,624V628M195,624V628M266.7,624V628M73.3,624V626M85.9,624V626M94.9,624V626M101.8,624V626M107.5,624V626M112.3,624V626M116.4,624V626M120.1,624V626M144.9,624V626M157.5,624V626M166.5,624V626M173.4,624V626M179.1,624V626M183.9,624V626M188,624V626M191.7,624V626M216.6,624V626M229.2,624V626M238.2,624V626M245.1,624V626M250.8,624V626M255.6,624V626M259.7,624V626M263.4,624V626M51.7,606.7H47.7M51.7,572.6H47.7M51.7,538.5H47.7M51.7,504.4H47.7M51.7,470.3H47.7M51.7,589.6H49.7M51.7,555.5H49.7M51.7,521.4H49.7M51.7,487.3H49.7M51.7,453.2H49.7"/>
<g class="t" text-anchor="middle"><text x="51.7" y="638">0.0001</text><text x="123.3" y="638">0.001</text><text x="195" y="638">0.01</text><text x="266.7" y="638">0.1</text></g>
<g class="t" text-anchor="end"><text x="45.5" y="610.2">0</text><text x="45.5" y="576.1">1</text><text x="45.5" y="542">2</text><text x="45.5" y="507.9">3</text><text x="45.5" y="473.8">4</text></g>
<text class="ti" transform="translate(37.3,536.7) rotate(-90)" text-anchor="middle">Benzene uptake (mmol/g)</text>
<text class="ti" x="159" y="664.5" text-anchor="middle">Partial pressure (P/P<tspan font-size="8" dy="2.5">0</tspan><tspan dy="-2.5">)</tspan></text>
<g stroke-width="0.6" fill="none">
<path stroke="#f28522" d="M187,501L192.7,501.7"/>
<path stroke="#7f7f1e" d="M203,497L198,503"/>
<path stroke="#f28522" d="M203,503L199,505"/>
<path stroke="#7a3cf0" d="M191,508.5L195,508.5"/>
<path stroke="#8b1a1a" d="M188,516L194,512"/>
<path stroke="#26c8d8" d="M191,520L196,514"/>
<path stroke="#1a9a9a" d="M208,503L199,513"/>
<path stroke="#6cc02c" d="M200,530L197,528"/>
<path stroke="#2060d0" d="M197.5,522L196,519.3"/>
<path stroke="#333" d="M254.3,545V550M239,550V554M169.3,602L172,599M170.7,606.7L173,609M247.7,604.3L250,607"/>
</g>
<g fill="#1d3fe0">
<circle cx="195.3" cy="459.3" r="2.3"/><circle cx="179.3" cy="492" r="2.3"/><circle cx="106" cy="495" r="2.3"/><circle cx="114" cy="500.5" r="2.3"/><circle cx="104.3" cy="505" r="2.3"/><circle cx="112.7" cy="504" r="2.3"/><circle cx="95" cy="522.3" r="2.3"/><circle cx="115.3" cy="517.3" r="2.3"/><circle cx="168.5" cy="507.5" r="2.3"/><circle cx="170.7" cy="510.3" r="2.3"/><circle cx="213.7" cy="511" r="2.3"/><circle cx="217.3" cy="515" r="2.3"/><circle cx="254.3" cy="550" r="2.3"/><circle cx="239" cy="550" r="2.3"/><circle cx="152" cy="545" r="2.3"/><circle cx="123.3" cy="563.3" r="2.3"/><circle cx="166.7" cy="572.7" r="2.3"/><circle cx="215.7" cy="585" r="2.3"/><circle cx="94" cy="590" r="2.3"/><circle cx="169.3" cy="602" r="2.3"/><circle cx="170.7" cy="606.7" r="2.3"/><circle cx="247.7" cy="604.3" r="2.3"/>
</g>
<circle cx="196" cy="519.3" r="2.3" fill="#2a6fd6"/>
<circle cx="192" cy="473.3" r="2.3" fill="#e8202a"/>
<circle cx="196" cy="545.7" r="2.3" fill="#ee30ee"/>
<circle cx="196.7" cy="527.7" r="2.3" fill="#6cc02c"/>
<circle cx="192.7" cy="501.7" r="2.2" fill="#f28522"/>
<circle cx="197.5" cy="503.5" r="2.2" fill="#9a9a20"/>
<circle cx="199.5" cy="505.5" r="2.2" fill="#f0a020"/>
<circle cx="195.5" cy="508.5" r="2.2" fill="#7a3cf0"/>
<circle cx="195" cy="512" r="2.2" fill="#8b1a1a"/>
<circle cx="197" cy="514" r="2.2" fill="#26c8d8"/>
<circle cx="199" cy="513" r="2.2" fill="#1a9a9a"/>
<g class="gl">
<text x="200" y="462.3">BUT-54</text>
<text x="196" y="476.3" fill="#e8202a">UiO-66-Cu<tspan font-size="5" dy="-3">II</tspan></text>
<text x="176" y="495" text-anchor="end">PAF-1</text>
<text x="102" y="498" text-anchor="end">BUT-55</text>
<text x="117" y="503.5">BUT-58</text>
<text x="100" y="508" text-anchor="end">BUT-56</text>
<text x="120.7" y="513.3">BUT-57</text>
<text x="91" y="525.3" text-anchor="end">BUT-53</text>
<text x="101.7" y="527">BUT-54</text>
<text x="147" y="507">BUT-67</text>
<text x="154" y="522">BUT-66</text>
<text x="183.5" y="503" fill="#f28522">1</text>
<text x="201" y="498" fill="#8f8f1e">2</text>
<text x="202" y="506" fill="#f0a020">3</text>
<text x="186.5" y="512" fill="#7a3cf0">4</text>
<text x="183.5" y="520" fill="#8b1a1a">5</text>
<text x="186.5" y="524.7" fill="#26c8d8">6</text>
<text x="199.5" y="534" fill="#6cc02c">7</text>
<text x="206" y="504.5" fill="#1a9a9a">UiO-66-Cu<tspan font-size="5" dy="-3">I</tspan></text>
<text x="216.7" y="512.7">Ni(bpb)</text>
<text x="220.7" y="520">MOF-177</text>
<text x="197.3" y="528" fill="#2a6fd6">UiO-66-defect</text>
<text x="199.3" y="549.7" fill="#ee30ee">UiO-66</text>
<text x="240" y="544">CUB-5</text>
<text x="199.3" y="561.3">Activated carbon</text>
<text x="136.7" y="555.3">Co(BDP)</text>
<text x="88.3" y="566.3">Zn(BDP)</text>
<text x="150.7" y="583.3">HKUST-1</text>
<text x="218.3" y="588.7">Zn(bpb)</text>
<text x="73.3" y="600.3">MIL-101(Cr)</text>
<text x="172.7" y="601.7">MCM-41</text>
<text x="173.3" y="613.3">ZIF-8</text>
<text x="221.7" y="613.3">13X Zeolite</text>
</g>

<!-- ================= PANEL H ================= -->
<text class="pl" x="301" y="453">H</text>
<!-- walls -->
<g class="gr">
<path d="M329,578.5L401.5,541.9M329,542L401.5,511.8M329,505.5L401.5,481.7M329,469L401.5,451.6"/>
<path d="M387,580.6V455.1M372.5,589.2V458.6M358,597.8V462M343.5,606.4V465.5"/>
<path d="M401.5,541.9L528,562.5M401.5,511.8L528,529M401.5,481.7L528,495.5M401.5,451.6L528,462"/>
<path d="M426.8,576.8V453.7M452.1,581.6V455.8M477.4,586.4V457.8M502.7,591.2V459.9"/>
<path d="M387,580.6L513.5,604.6M372.5,589.2L499,613.2M358,597.8L484.5,621.8M343.5,606.4L470,630.4"/>
<path d="M426.8,576.8L354.3,619.8M452.1,581.6L379.6,624.6M477.4,586.4L404.9,629.4M502.7,591.2L430.2,634.2"/>
</g>
<path d="M401.5,451.6V572M401.5,572L329,615M401.5,572L528,596M528,596V462" fill="none" stroke="#b8b8b8" stroke-width="0.7"/>
<path d="M329,469V615L455.5,639L528,596" fill="none" stroke="#555" stroke-width="0.9"/>
<g class="t" font-size="7" text-anchor="end"><text x="326" y="618">0</text><text x="325" y="582">1</text><text x="325" y="546">2</text><text x="325" y="509">3</text><text x="325" y="472.5">4</text></g>
<text transform="translate(322,541) rotate(-90)" text-anchor="middle" font-size="9" font-weight="bold" fill="#222">Benzene uptake (mmol/g)</text>
<g font-size="5" fill="#444" font-weight="bold">
<text transform="translate(336,626) rotate(20)">1000</text>
<text transform="translate(358,631) rotate(20)">1100</text>
<text transform="translate(380,636) rotate(20)">1200</text>
<text transform="translate(402,641) rotate(20)">1300</text>
<text transform="translate(424,646) rotate(20)">1400</text>
<text transform="translate(446,651) rotate(20)">1500</text>
<text transform="translate(478,646) rotate(-10)">6.0</text>
<text transform="translate(491,636) rotate(-10)">6.5</text>
<text transform="translate(500,625) rotate(-10)">7.0</text>
<text transform="translate(510,615) rotate(-10)">7.5</text>
<text transform="translate(518,606) rotate(-10)">8.0</text>
</g>
<text transform="translate(376,645) rotate(17)" text-anchor="middle" font-size="7.5" font-weight="bold" fill="#222">BET surface area (m<tspan font-size="5" dy="-2.5">2</tspan><tspan dy="2.5">/g)</tspan></text>
<text transform="translate(517,626) rotate(-45)" text-anchor="middle" font-size="7" font-weight="bold" fill="#222">Pore size (Å)</text>
<!-- bars -->
<rect x="356.7" y="551" width="5.6" height="62" fill="#f020f0"/>
<rect x="395" y="513" width="5" height="90" fill="#22d3df"/>
<rect x="416.7" y="501" width="5" height="93" fill="#b5ad1e"/>
<rect x="429.5" y="506" width="5.3" height="107" fill="#7733ee"/>
<rect x="435" y="509" width="4.8" height="93" fill="#1eb4bb"/>
<rect x="442.7" y="467.5" width="5" height="137" fill="#f01212"/>
<rect x="452.5" y="512.7" width="5.5" height="109" fill="#e8a820"/>
<rect x="458" y="519" width="4.7" height="88" fill="#2070f0"/>
<rect x="462.8" y="491" width="4.9" height="98" fill="#f08820"/>
<rect x="478.7" y="539.5" width="5.5" height="85" fill="#84d020"/>
<rect x="492.7" y="510.7" width="5.3" height="93" fill="#c00012"/>
<g stroke-width="0.6">
<path d="M437.3,490V508" stroke="#1a9a9a"/>
<path d="M460.3,481.7V519" stroke="#2070f0"/>
<path d="M480,502V539.5" stroke="#84d020"/>
<path d="M494,510V511" stroke="#c00012"/>
</g>
<g class="hl">
<text x="421" y="465" fill="#f01212">UiO-66-Cu<tspan font-size="4.5" dy="-3">II</tspan></text>
<text x="450" y="482" fill="#2070f0">UiO-66-defect</text>
<text x="461" y="490" fill="#f08820">MFM-300(Sc)</text>
<text x="402" y="490" fill="#1a9a9a">UiO-66-Cu<tspan font-size="4.5" dy="-3">I</tspan></text>
<text x="381" y="499" fill="#a8a01a">MFM-300(In)</text>
<text x="474" y="502" fill="#74c020">MFM-300(V<tspan font-size="4.5" dy="-3">III</tspan><tspan dy="3">)</tspan></text>
<text x="482" y="510" fill="#b00010">MFM-300(Cr)</text>
<text x="362" y="511" fill="#22d3df">MFM-300(Fe)</text>
<text x="346" y="548" fill="#f020f0">UiO-66</text>
<text x="397" y="621" fill="#7733ee">MFM-300(Ga)</text>
<text x="427" y="632" fill="#e8a820">MFM-300(Al)</text>
</g>

<!-- ================= PANEL I ================= -->
<text class="pl" x="572.5" y="453">I</text>
<rect x="599.3" y="448.3" width="215.7" height="175.7" fill="none" stroke="#666" stroke-width="1.1"/>
<path class="tk" d="M599.3,623.3H595.3M599.3,569.6H595.3M599.3,515.9H595.3M599.3,462.2H595.3M599.3,596.5H597.3M599.3,542.7H597.3M599.3,489H597.3M608.3,624V628M628.4,624V628M648.5,624V628M668.6,624V628M688.7,624V628M708.8,624V628M728.9,624V628M749,624V628M769.1,624V628M789.2,624V628M809.3,624V628"/>
<g class="t" text-anchor="end"><text x="593" y="626.8">0</text><text x="593" y="573.1">20</text><text x="593" y="519.4">40</text><text x="593" y="465.7">60</text></g>
<text class="ti" transform="translate(580,539) rotate(-90)" text-anchor="middle">Qst at 1 mmol/g (kJ/mol)</text>
<g class="il" text-anchor="end">
<text transform="translate(614.3,629) rotate(-28)">MFM-300(Sc)</text>
<text transform="translate(634.4,629) rotate(-28)">MFM-300(V<tspan font-size="5" dy="-3">III</tspan><tspan dy="3">)</tspan></text>
<text transform="translate(654.5,629) rotate(-28)">MFM-300(Cr)</text>
<text transform="translate(674.6,629) rotate(-28)">MFM-300(Fe)</text>
<text transform="translate(694.7,629) rotate(-28)">MFM-300(Al)</text>
<text transform="translate(714.8,629) rotate(-28)">MFM-300(Ga)</text>
<text transform="translate(734.9,629) rotate(-28)">MFM-300(In)</text>
<text transform="translate(755,629) rotate(-28)">UiO-66</text>
<text transform="translate(775.1,629) rotate(-28)">UiO-66-defect</text>
<text transform="translate(795.2,629) rotate(-28)">UiO-66-Cu<tspan font-size="5" dy="-3">II</tspan></text>
<text transform="translate(815.3,629) rotate(-28)">UiO-66-Cu<tspan font-size="5" dy="-3">I</tspan></text>
</g>
<!-- error bars benzene -->
<path fill="none" stroke="#e8505a" stroke-width="0.8" d="M608.3,512.7V497.4M605.8,512.7H610.8M605.8,497.4H610.8M628.4,491.7V477M625.9,491.7H630.9M625.9,477H630.9M648.5,527.7V513.2M646,527.7H651M646,513.2H651M668.6,523.9V521.2M666.1,523.9H671.1M666.1,521.2H671.1M688.7,477V463M686.2,477H691.2M686.2,463H691.2M708.8,525.3V515.3M706.3,525.3H711.3M706.3,515.3H711.3M728.9,519.9V508.4M726.4,519.9H731.4M726.4,508.4H731.4M749,521.8V515.3M746.5,521.8H751.5M746.5,515.3H751.5M769.1,501.1V493.1M766.6,501.1H771.6M766.6,493.1H771.6M789.2,475.6V469.2M786.7,475.6H791.7M786.7,469.2H791.7M809.3,497.1V482.3M806.8,497.1H811.8M806.8,482.3H811.8"/>
<!-- error bars cyclohexane -->
<path fill="none" stroke="#333" stroke-width="0.8" d="M628.4,510.5V502.5M625.9,510.5H630.9M625.9,502.5H630.9M688.7,507.8V501.1M686.2,507.8H691.2M686.2,501.1H691.2M708.8,536.8V527.7M706.3,536.8H711.3M706.3,527.7H711.3M728.9,536.8V526.1M726.4,536.8H731.4M726.4,526.1H731.4M749,529.3V522.6M746.5,529.3H751.5M746.5,522.6H751.5M769.1,525.5V516.7M766.6,525.5H771.6M766.6,516.7H771.6M789.2,525.3V514.5M786.7,525.3H791.7M786.7,514.5H791.7M809.3,527.4V518.6M806.8,527.4H811.8M806.8,518.6H811.8"/>
<g fill="#e8202a">
<rect x="606.3" y="503.1" width="4" height="4"/><rect x="626.4" y="482.5" width="4" height="4"/><rect x="646.5" y="518.4" width="4" height="4"/><rect x="666.6" y="520.6" width="4" height="4"/><rect x="686.7" y="468.2" width="4" height="4"/><rect x="706.8" y="518.4" width="4" height="4"/><rect x="726.9" y="512.5" width="4" height="4"/><rect x="747" y="516.6" width="4" height="4"/><rect x="767.1" y="495.1" width="4" height="4"/><rect x="787.2" y="470.9" width="4" height="4"/><rect x="807.3" y="487.8" width="4" height="4"/>
</g>
<g fill="#111">
<rect x="606.3" y="531.9" width="4" height="4"/><rect x="626.4" y="504.8" width="4" height="4"/><rect x="646.5" y="532.1" width="4" height="4"/><rect x="666.6" y="532.4" width="4" height="4"/><rect x="686.7" y="502.6" width="4" height="4"/><rect x="706.8" y="530" width="4" height="4"/><rect x="726.9" y="529.5" width="4" height="4"/><rect x="747" y="523.8" width="4" height="4"/><rect x="767.1" y="519.2" width="4" height="4"/><rect x="787.2" y="517.9" width="4" height="4"/><rect x="807.3" y="521.1" width="4" height="4"/>
</g>
<rect x="651.7" y="599.7" width="4" height="4" fill="#e8202a"/>
<text class="il" x="665" y="604.5">Benzene</text>
<rect x="707.3" y="599.7" width="4" height="4" fill="#111"/>
<text class="il" x="720.7" y="604.5">Cylohexane</text>
</svg>
</body></html>
